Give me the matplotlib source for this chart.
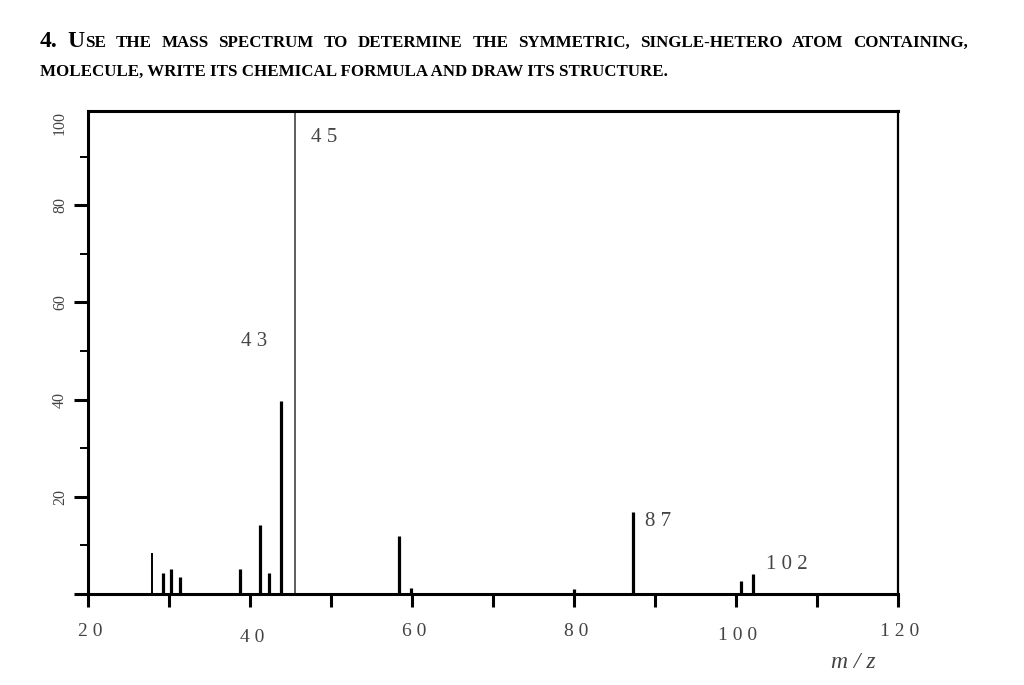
import matplotlib
matplotlib.use("Agg")
import matplotlib.pyplot as plt
from matplotlib.ticker import MultipleLocator
import matplotlib.transforms as mtransforms

# peak positions (m/z as drawn) and relative abundances
mz = [27.9, 29.2, 30.2, 31.4, 38.8, 41.2, 42.4, 43.8, 45.6, 58.4, 59.9, 80.0, 87.3, 100.6, 102.1]
abund = [8.4, 4.3, 5.1, 3.5, 5.1, 14.3, 4.3, 39.8, 100.0, 12.0, 1.3, 1.1, 16.8, 2.7, 4.2]
thin_peaks = [27.9, 45.6]

peak_labels = ["4 5", "4 3", "8 7", "1 0 2"]
peak_label_x = [49.1, 40.5, 90.4, 106.3]
peak_label_y = [94.0, 52.0, 14.9, 6.1]

xticks = [20, 40, 60, 80, 100, 120]
xtick_labels = ["2 0", "4 0", "6 0", "8 0", "1 0 0", "1 2 0"]
yticks = [20, 40, 60, 80, 100]

# title lines, words as (big part, small-caps part)
title_line1 = [("4.", ""), ("U", "SE"), ("", "THE"), ("", "MASS"), ("", "SPECTRUM"), ("", "TO"),
               ("", "DETERMINE"), ("", "THE"), ("", "SYMMETRIC,"), ("", "SINGLE-HETERO"),
               ("", "ATOM"), ("", "CONTAINING,")]
title_line2 = "MOLECULE, WRITE ITS CHEMICAL FORMULA AND DRAW ITS STRUCTURE."

serif = ["Liberation Serif", "DejaVu Serif"]
grey = "#444444"

fig = plt.figure(figsize=(10.24, 6.85), dpi=100)
ax = fig.add_axes([88 / 1024, 1 - 594 / 685, (898 - 88) / 1024, (594 - 111) / 685])

for x, h in zip(mz, abund):
    if x in thin_peaks:
        lw = 1.1 if x == 45.6 else 1.4
        col = "#333333" if x == 45.6 else "black"
    else:
        lw = 2.3
        col = "black"
    ax.vlines(x, 0, h, color=col, linewidth=lw)

ax.set_xlim(20, 120)
ax.set_ylim(0.8, 99.4)

for s in ax.spines.values():
    s.set_linewidth(2.2)
ax.spines["right"].set_linewidth(1.6)

ax.xaxis.set_major_locator(MultipleLocator(10))
ax.tick_params(axis="x", direction="out", length=9, width=2.2, labelbottom=False)
ax.set_yticks([0, 20, 40, 60, 80])
ax.yaxis.set_minor_locator(MultipleLocator(10))
ax.tick_params(axis="y", which="major", direction="out", length=10, width=2.2, labelleft=False)
ax.tick_params(axis="y", which="minor", direction="out", length=6, width=1.4)

# x tick labels, slightly staggered like the original scan
xlab_tr = mtransforms.blended_transform_factory(ax.transData, ax.transAxes)
stagger = [0, -5, 1, 0, -4, 0]
for xv, lab, dy in zip(xticks, xtick_labels, stagger):
    ax.annotate(lab, (xv, 0), xycoords=xlab_tr, xytext=(2, -38 + dy), textcoords="offset pixels",
                ha="center", va="center", fontsize=14, family=serif, color=grey)

ylab_tr = mtransforms.blended_transform_factory(ax.transAxes, ax.transData)
for yv in yticks:
    yy = yv if yv < 100 else 97.0
    ax.annotate(str(yv), (0, yy), xycoords=ylab_tr, xytext=(-28, 0), textcoords="offset pixels",
                ha="center", va="center", rotation=90, fontsize=11.5, family=serif, color=grey)

for t, x, y in zip(peak_labels, peak_label_x, peak_label_y):
    ax.text(x, y, t, fontsize=15, family=serif, color=grey, ha="center", va="center")

fig.text(853 / 1024, 1 - 663 / 685, "m / z", fontsize=17, family=serif, style="italic",
         color=grey, ha="center", va="center")

# title in small caps: big first letters, smaller capitals after them
renderer = fig.canvas.get_renderer()
big_fs, small_fs = 17, 12.2
W, H = 1024, 685


def word_width(big, small):
    w = 0
    for txt, fs in ((big, big_fs), (small, small_fs)):
        if txt:
            t = fig.text(0, 0, txt, fontsize=fs, family=serif, weight="bold")
            w += t.get_window_extent(renderer).width
            t.remove()
    return w


widths = [word_width(b, s) for b, s in title_line1]
left, right = 40, 968
gap = (right - left - sum(widths)) / (len(widths) - 1)
x0 = left
for (b, s), w in zip(title_line1, widths):
    xx = x0
    if b:
        t = fig.text(xx / W, 1 - 47 / H, b, fontsize=big_fs, family=serif, weight="bold", va="baseline")
        xx = t.get_window_extent(renderer).x1
    if s:
        fig.text(xx / W, 1 - 47 / H, s, fontsize=small_fs, family=serif, weight="bold", va="baseline")
    x0 += w + gap

fig.text(left / W, 1 - 76 / H, title_line2, fontsize=small_fs, family=serif, weight="bold", va="baseline")

fig.savefig("out.png", dpi=100)
